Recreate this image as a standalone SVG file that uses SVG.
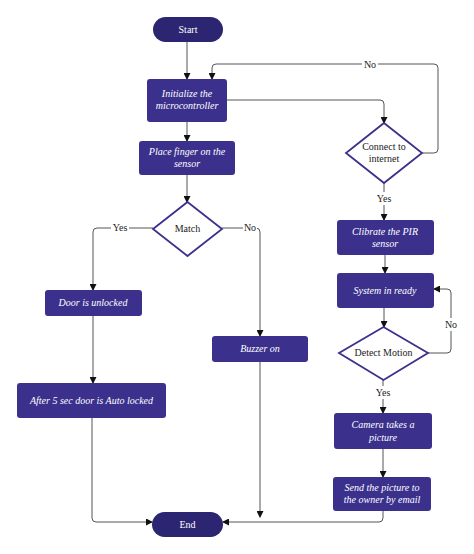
<svg xmlns="http://www.w3.org/2000/svg" width="474" height="554" viewBox="0 0 474 554">
<style>
.box{fill:#3b318c;}
.pill{fill:#2b2572;}
.dia{fill:#fff;stroke:#3b318c;stroke-width:1.8;}
.bt{font-family:"Liberation Serif",serif;font-style:italic;font-size:10px;fill:#fff;text-anchor:middle;}
.pt{font-family:"Liberation Serif",serif;font-size:10px;fill:#fff;text-anchor:middle;}
.dt{font-family:"Liberation Serif",serif;font-size:10px;fill:#222;text-anchor:middle;}
.lb{font-family:"Liberation Serif",serif;font-size:10px;fill:#222;text-anchor:middle;}
.c{fill:none;stroke:#555;stroke-width:1;}
</style>
<defs>
<marker id="ah" markerWidth="7" markerHeight="7" refX="6" refY="3.5" orient="auto" markerUnits="userSpaceOnUse">
<path d="M0,0 L7,3.5 L0,7 Z" fill="#111"/>
</marker>
</defs>
<rect width="474" height="554" fill="#fff"/>
<g id="connectors">
<path class="c" d="M187,42 V79" marker-end="url(#ah)"/>
<path class="c" d="M187,122 V141" marker-end="url(#ah)"/>
<path class="c" d="M187,175 V202" marker-end="url(#ah)"/>
<path class="c" d="M153,228 H97 Q93,228 93,232 V290" marker-end="url(#ah)"/>
<path class="c" d="M222,228 H256 Q260,228 260,232 V336" marker-end="url(#ah)"/>
<path class="c" d="M93,316 V383" marker-end="url(#ah)"/>
<path class="c" d="M92,418 V518 Q92,522 96,522 H152" marker-end="url(#ah)"/>
<path class="c" d="M260,362 V517" marker-end="url(#ah)"/>
<path class="c" d="M383,511 V518 Q383,522 379,522 H223" marker-end="url(#ah)"/>
<path class="c" d="M227,100 H380 Q384,100 384,104 V123" marker-end="url(#ah)"/>
<path class="c" d="M422,153 H434 Q438,153 438,149 V68 Q438,64 434,64 H216 Q212,64 212,68 V79" marker-end="url(#ah)"/>
<path class="c" d="M384,183 V220" marker-end="url(#ah)"/>
<path class="c" d="M385,255 V273" marker-end="url(#ah)"/>
<path class="c" d="M384,308 V327" marker-end="url(#ah)"/>
<path class="c" d="M428,353 H447 Q451,353 451,349 V293 Q451,289 447,289 H434" marker-end="url(#ah)"/>
<path class="c" d="M383,380 V413" marker-end="url(#ah)"/>
<path class="c" d="M383,449 V477" marker-end="url(#ah)"/>
<rect x="111" y="221" width="18" height="13" fill="#fff"/>
<text class="lb" x="120" y="231">Yes</text>
<rect x="243" y="221" width="14" height="13" fill="#fff"/>
<text class="lb" x="250" y="231">No</text>
<rect x="362" y="58" width="16" height="13" fill="#fff"/>
<text class="lb" x="370" y="68">No</text>
<rect x="375" y="192" width="18" height="13" fill="#fff"/>
<text class="lb" x="384" y="202">Yes</text>
<rect x="444" y="318" width="14" height="13" fill="#fff"/>
<text class="lb" x="451" y="328">No</text>
<rect x="374" y="386" width="18" height="13" fill="#fff"/>
<text class="lb" x="383" y="396">Yes</text>
</g>
<g id="start"><rect class="pill" x="153" y="17" width="70" height="25" rx="12.5"/><text class="pt" x="188" y="33">Start</text></g>
<g id="init"><rect class="box" x="147" y="79" width="80" height="43" rx="3"/><text class="bt" x="187" y="97">Initialize the</text><text class="bt" x="187" y="109">microcontroller</text></g>
<g id="place"><rect class="box" x="139" y="141" width="96" height="34" rx="3"/><text class="bt" x="187" y="155">Place finger on the</text><text class="bt" x="187" y="167">sensor</text></g>
<g id="match"><polygon class="dia" points="187.5,202 222,229 187.5,256 153,229"/><text class="dt" x="187.5" y="232">Match</text></g>
<g id="connect"><polygon class="dia" points="384,123 422,153 384,183 346,153"/><text class="dt" x="384" y="150">Connect to</text><text class="dt" x="384" y="162">internet</text></g>
<g id="door"><rect class="box" x="45" y="290" width="97" height="26" rx="3"/><text class="bt" x="93" y="306">Door is unlocked</text></g>
<g id="after"><rect class="box" x="17" y="383" width="149" height="35" rx="3"/><text class="bt" x="91.5" y="404">After 5 sec door is Auto locked</text></g>
<g id="buzzer"><rect class="box" x="212" y="336" width="96" height="26" rx="3"/><text class="bt" x="260" y="352">Buzzer on</text></g>
<g id="calibrate"><rect class="box" x="337" y="220" width="97" height="35" rx="3"/><text class="bt" x="385" y="235">Clibrate the PIR</text><text class="bt" x="385" y="247">sensor</text></g>
<g id="system"><rect class="box" x="337" y="273" width="97" height="35" rx="3"/><text class="bt" x="385" y="294">System in ready</text></g>
<g id="detect"><polygon class="dia" points="383.5,327 428,353 383.5,380 339,353"/><text class="dt" x="383.5" y="356">Detect Motion</text></g>
<g id="camera"><rect class="box" x="334" y="413" width="98" height="36" rx="3"/><text class="bt" x="383" y="428">Camera takes a</text><text class="bt" x="383" y="441">picture</text></g>
<g id="send"><rect class="box" x="333" y="477" width="98" height="34" rx="3"/><text class="bt" x="382" y="491">Send the picture to</text><text class="bt" x="382" y="503">the owner by email</text></g>
<g id="end"><rect class="pill" x="152" y="512" width="71" height="25" rx="12.5"/><text class="pt" x="187.5" y="528">End</text></g>
</svg>
